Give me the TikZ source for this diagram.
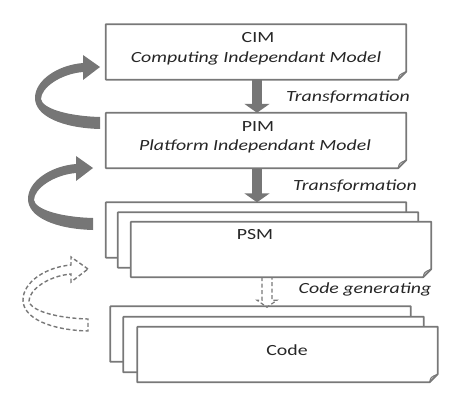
\documentclass[tikz,border=0pt]{standalone}
\usepackage{fontspec}
\setmainfont{Carlito}[FakeStretch=1.28]
\usetikzlibrary{arrows.meta}
\definecolor{boxgray}{RGB}{120,120,120}
\definecolor{arrowgray}{RGB}{118,118,118}
\newcommand{\pageframe}[1]{%
  \draw[frame] (#1.north west) -- (#1.north east) -- ([yshift=8pt]#1.south east)
    -- ([xshift=-8pt]#1.south east) -- (#1.south west) -- cycle;
  \draw[frame,line width=1.1pt] ([xshift=-8pt]#1.south east) .. controls ([xshift=-7pt,yshift=5pt]#1.south east) .. ([yshift=8pt]#1.south east);
}
\tikzset{
  pics/turnarrow/.style={code={
    \path[pic actions] (100,67) -- (83,55) -- (83,63)
      .. controls (58,65) and (35,80) .. (35,98)
      .. controls (35,116) and (62,128) .. (100,129) -- (100,117)
      .. controls (66,116) and (42,108) .. (41,99)
      .. controls (41,88) and (60,74) .. (83,72) -- (83,80) -- cycle;
  }}
}
\begin{document}
\begin{tikzpicture}
    [
    x=1pt, y=-1pt
    , page/.style = {minimum width=300pt, minimum height=55pt, inner sep=0pt, fill=white}
    , frame/.style = {draw=boxgray, line width=1.7pt, line join=round}
    , doctext/.style = {text=black!85, font=\fontsize{15.5}{17}\selectfont}
    , bigarrow/.style = {arrowgray, line width=10pt, -{Triangle[width=25pt,length=9pt]}}
    , loopdash/.style = {draw=boxgray, line width=1.4pt, dash pattern=on 4pt off 2.5pt}
    ]
\useasboundingbox (0,0) rectangle (474,409);

\node[page] (cim) at (256,52) {};
\pageframe{cim}
\node[doctext] (cimname) at (258,38) {CIM};
\node[doctext] (cimlong) at (256,58) {\itshape Computing Independant Model};

\node[page] (pim) at (256,140.5) {};
\pageframe{pim}
\node[doctext] (pimname) at (258,127) {PIM};
\node[doctext] (pimlong) at (255,146) {\itshape Platform Independant Model};

% PSM stack
\node[page] (psmA) at (256,230) {};
\pageframe{psmA}
\node[page] (psmB) at (268,240) {};
\pageframe{psmB}
\node[page] (psm) at (281,249.5) {};
\pageframe{psm}
\node[doctext] (psmname) at (255,235) {PSM};

% Code stack
\node[page] (codeA) at (260.5,334) {};
\pageframe{codeA}
\node[page] (codeB) at (273.5,344.5) {};
\pageframe{codeB}
\node[page] (code) at (287.5,354.5) {};
\pageframe{code}
\node[doctext] (codename) at (287,350) {Code};

\draw[bigarrow] ([xshift=1pt]cim.south) -- ([xshift=1pt]pim.north);
\node[doctext] (trans1) at (348,97) {\itshape Transformation};
\draw[bigarrow] ([xshift=1pt]pim.south) -- ([xshift=1pt]psmA.north);
\node[doctext] (trans2) at (355,186) {\itshape Transformation};

\draw[loopdash, line width=1.2pt]
  ([xshift=-19pt]psm.south) -- ++(0,23) -- ++(-5,0) -- ++(10,7)
  -- ++(10,-7) -- ++(-5,0) -- ([xshift=-9pt]psm.south);
\node[doctext] (codegen) at (365,289) {\itshape Code generating};

% iteration loops
\pic[fill=arrowgray] at (0,0) {turnarrow};
\pic[fill=arrowgray] at (-7,101) {turnarrow};
\pic[loopdash] at (-12,202) {turnarrow};
\end{tikzpicture}
\end{document}
